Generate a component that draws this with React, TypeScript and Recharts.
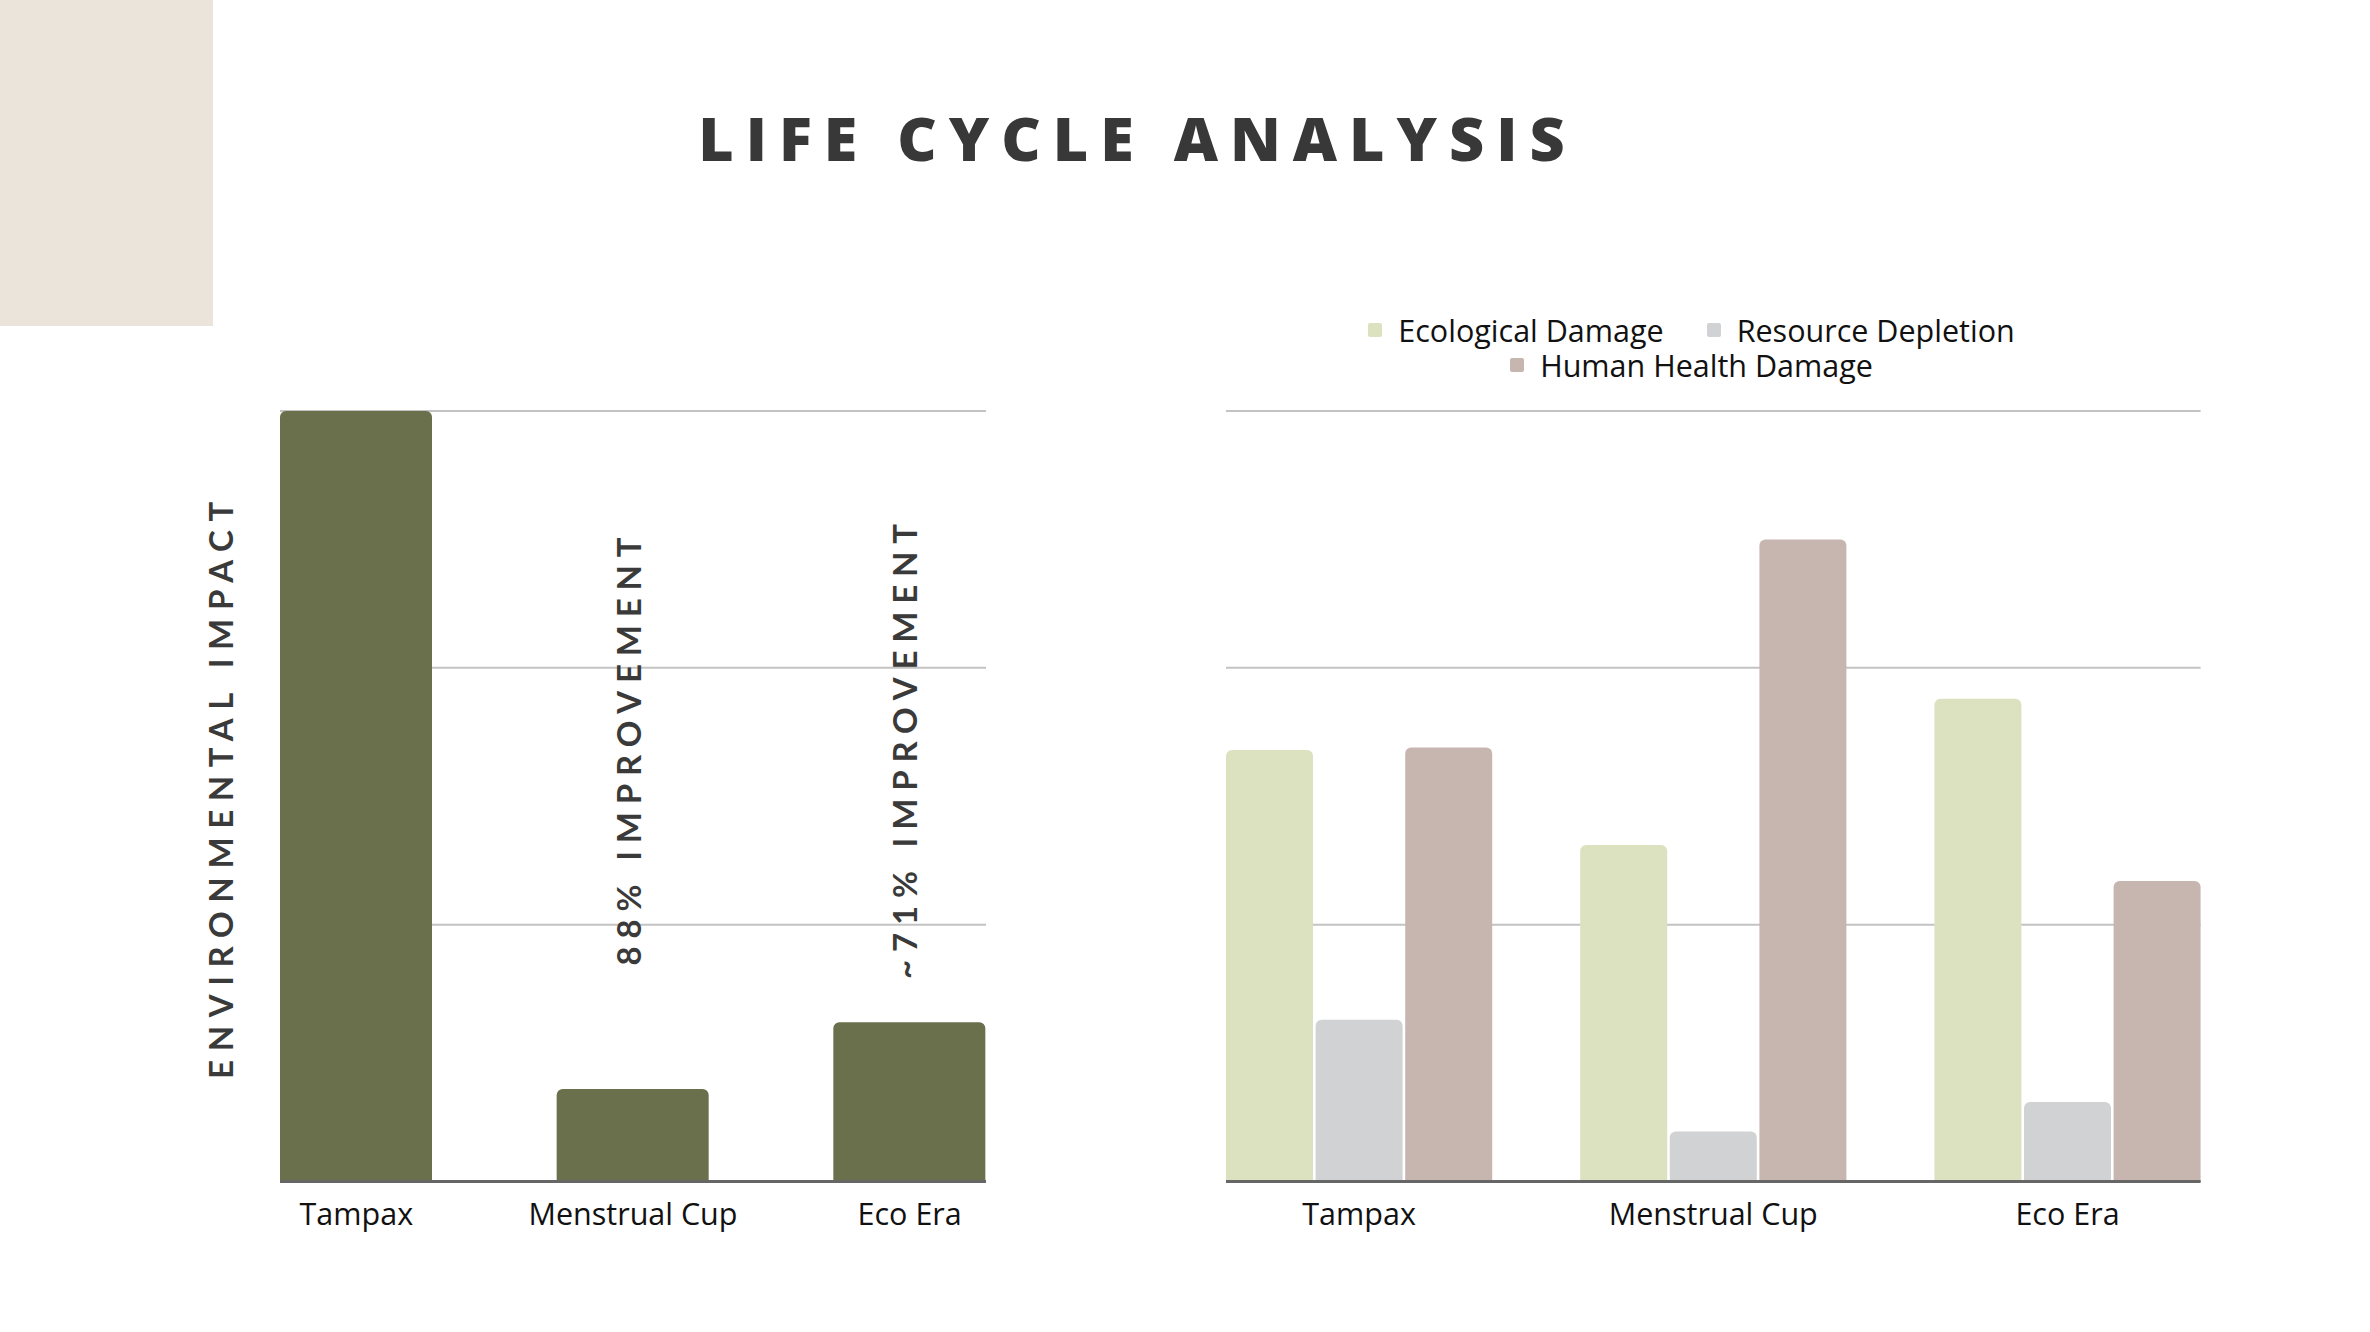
import React from 'react'
import { BarChart, Bar, XAxis, YAxis, CartesianGrid, Legend, LabelList } from 'recharts'

// categories + values (grid = 0, 10, 20, 30)
const products = ['Tampax', 'Menstrual Cup', 'Eco Era']
const overallImpact = [30, 3.6, 6.2]
const improvementNotes = ['', '88% IMPROVEMENT', '~71% IMPROVEMENT']
const ecologicalDamage = [16.8, 13.1, 18.8]
const resourceDepletion = [6.3, 1.95, 3.1]
const humanHealthDamage = [16.9, 25, 11.7]
const impactTicks = [0, 10, 20, 30]

const seriesKeys = ['eco', 'res', 'human']
const seriesNames = ['Ecological Damage', 'Resource Depletion', 'Human Health Damage']
const seriesColors = ['#dce1c0', '#d1d2d4', '#c7b6b0']

const leftData = products.map((name, i) => ({ name, impact: overallImpact[i], note: improvementNotes[i] }))
const rightData = products.map((name, i) => ({
  name,
  eco: ecologicalDamage[i],
  res: resourceDepletion[i],
  human: humanHealthDamage[i]
}))

const tickStyle = { fill: '#111', fontSize: 30.5, fontFamily: 'Open Sans' }
const spacedText = { fontFamily: 'Lato', fontWeight: 700, fontSize: 33, letterSpacing: 7.8, fill: '#3a3a3a' }

// vertical note above the smaller bars
const renderImprovement = (props: any) => {
  const { x, y, width, height, value } = props
  if (!value) return null
  const cx = x + width / 2 - 4
  const cy = y + height - 434
  return (
    <text transform={`translate(${cx}, ${cy}) rotate(-90)`} textAnchor='middle' dy='0.36em' style={spacedText}>
      {value}
    </text>
  )
}

// legend keeps the series order (row 1: first two, row 2: third)
const renderLegend = () => (
  <div style={{ display: 'flex', flexWrap: 'wrap', justifyContent: 'center', columnGap: 43 }}>
    {seriesNames.map((name, i) => (
      <div key={name} style={{ display: 'flex', alignItems: 'center', height: 34.5 }}>
        <span style={{ width: 14, height: 14, borderRadius: 2, background: seriesColors[i], marginRight: 16 }} />
        <span style={{ fontFamily: 'Open Sans', fontSize: 30.5, color: '#111', lineHeight: '34.5px' }}>{name}</span>
      </div>
    ))}
  </div>
)

export default function App() {
  return (
    <div style={{ position: 'absolute', left: 0, top: 0, width: 2370, height: 1332, background: '#fff', overflow: 'hidden' }}>
      <div style={{ position: 'absolute', left: 0, top: 0, width: 213, height: 326, background: '#ebe4da' }} />

      <div style={{ position: 'absolute', left: 0, top: 0 }}>
        <BarChart width={1100} height={1300} data={leftData} margin={{ top: 411, right: 114, bottom: 58.5, left: 280 }}>
          <CartesianGrid vertical={false} stroke='#c3c3c3' strokeWidth={2} />
          <XAxis
            dataKey='name'
            padding={{ left: -62, right: -62 }}
            height={60}
            interval={0}
            axisLine={{ stroke: '#666', strokeWidth: 3 }}
            tickLine={false}
            tickSize={0}
            tickMargin={22}
            tick={tickStyle}
          />
          <YAxis domain={[0, 30]} ticks={impactTicks} hide />
          <Bar dataKey='impact' fill='#6a6f4c' barSize={152} radius={[6, 6, 0, 0]} isAnimationActive={false}>
            <LabelList dataKey='note' content={renderImprovement} />
          </Bar>
        </BarChart>
      </div>

      <div style={{ position: 'absolute', left: 1100, top: 0 }}>
        <BarChart
          width={1270}
          height={1300}
          data={rightData}
          barGap={2.6}
          margin={{ top: 411, right: 169.4, bottom: 58.5, left: 126 }}
        >
          <CartesianGrid vertical={false} stroke='#c3c3c3' strokeWidth={2} />
          <XAxis
            dataKey='name'
            padding={{ left: -44, right: -44 }}
            height={60}
            interval={0}
            axisLine={{ stroke: '#666', strokeWidth: 3 }}
            tickLine={false}
            tickSize={0}
            tickMargin={22}
            tick={tickStyle}
          />
          <YAxis domain={[0, 30]} ticks={impactTicks} hide />
          <Legend
            verticalAlign='middle'
            align='center'
            layout='horizontal'
            content={renderLegend}
            wrapperStyle={{ top: 313, left: 231.5, width: 720 }}
          />
          {seriesKeys.map((key, i) => (
            <Bar
              key={key}
              dataKey={key}
              name={seriesNames[i]}
              fill={seriesColors[i]}
              barSize={87}
              radius={[6, 6, 0, 0]}
              isAnimationActive={false}
            />
          ))}
        </BarChart>
      </div>

      <svg style={{ position: 'absolute', left: 0, top: 0, pointerEvents: 'none' }} width={2370} height={1332}>
        <text
          x={1137.5}
          y={161}
          textAnchor='middle'
          style={{ fontFamily: 'Open Sans', fontWeight: 800, fontSize: 61, letterSpacing: 12, fill: '#383838' }}
        >
          LIFE CYCLE ANALYSIS
        </text>
        <text
          transform='translate(221.5, 786) rotate(-90)'
          textAnchor='middle'
          dy='0.36em'
          style={{ ...spacedText, letterSpacing: 8.6 }}
        >
          ENVIRONMENTAL IMPACT
        </text>
      </svg>
    </div>
  )
}
